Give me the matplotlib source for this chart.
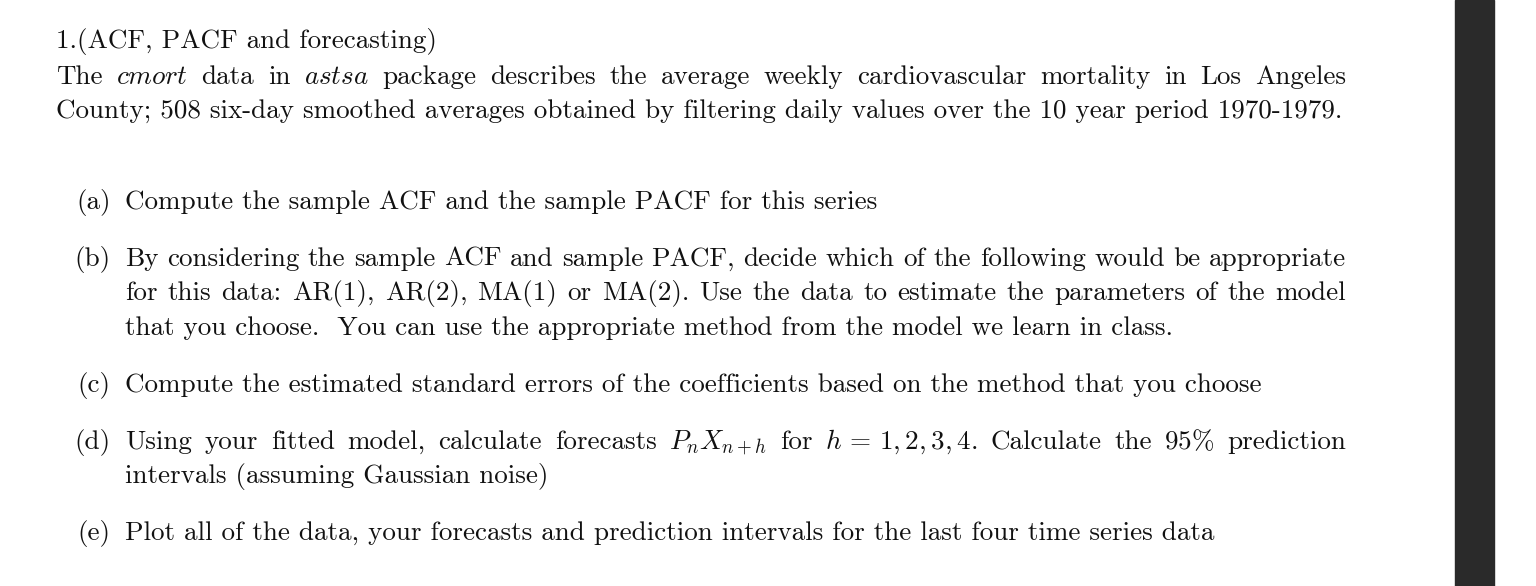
import matplotlib.pyplot as plt
from matplotlib.patches import Rectangle

plt.rcParams['mathtext.fontset'] = 'cm'
plt.rcParams['font.family'] = ['cmr10', 'DejaVu Serif']
plt.rcParams['axes.unicode_minus'] = False

W, H = 1536, 586
fig = plt.figure(figsize=(W / 100, H / 100), dpi=100)
fig.patch.set_facecolor('white')

# dark side bar
fig.add_artist(Rectangle((1455 / W, 0), 39 / W, 1, transform=fig.transFigure,
                         color='#2a2a2a', zorder=0))

fs = 19.5
RIGHT = 1346

# (x, baseline y, tokens, justified)
lines = [
    (56, 48, ["1.(ACF, PACF and forecasting)"], False),
    (56, 84, ["The", r"$\it{cmort}$", "data", "in", r"$\it{astsa}$", "package", "describes", "the",
              "average", "weekly", "cardiovascular", "mortality", "in", "Los", "Angeles"], True),
    (56, 118, ["County; 508 six-day smoothed averages obtained by filtering daily values over the 10 year period 1970-1979."], False),
    (76, 209, ["(a)"], False),
    (125, 209, ["Compute the sample ACF and the sample PACF for this series"], False),
    (74, 266, ["(b)"], False),
    (125, 266, "By considering the sample ACF and sample PACF, decide which of the following would be appropriate".split(), True),
    (125, 300, "for this data: AR(1), AR(2), MA(1) or MA(2).  Use the data to estimate the parameters of the model".split(), True),
    (125, 335, ["that you choose.  You can use the appropriate method from the model we learn in class."], False),
    (77, 392, ["(c)"], False),
    (125, 392, ["Compute the estimated standard errors of the coefficients based on the method that you choose"], False),
    (74, 449, ["(d)"], False),
    (125, 449, ["Using", "your", "fitted", "model,", "calculate", "forecasts", r"$P_nX_{n+h}$", "for",
                r"$h\,=\,1,2,3,4.$", "Calculate", "the", r"95$\%$", "prediction"], True),
    (125, 483, ["intervals (assuming Gaussian noise)"], False),
    (77, 540, ["(e)"], False),
    (125, 540, ["Plot all of the data, your forecasts and prediction intervals for the last four time series data"], False),
]

fig.canvas.draw()
renderer = fig.canvas.get_renderer()

for x, y, tokens, justify in lines:
    yf = 1 - y / H
    if not justify:
        fig.text(x / W, yf, " ".join(tokens), fontsize=fs, va='baseline', ha='left', color='#111111')
        continue
    texts = [fig.text(0, yf, t, fontsize=fs, va='baseline', ha='left', color='#111111') for t in tokens]
    widths = [t.get_window_extent(renderer).width for t in texts]
    gap = (RIGHT - x - sum(widths)) / (len(tokens) - 1)
    cx = x
    for t, w in zip(texts, widths):
        t.set_x(cx / W)
        cx += w + gap

fig.savefig('out.png', dpi=100, facecolor='white')
